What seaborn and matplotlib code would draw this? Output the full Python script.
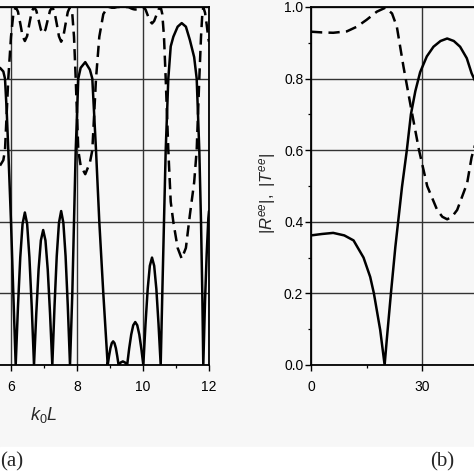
import matplotlib
matplotlib.use('Agg')
import matplotlib.pyplot as plt
import seaborn as sns
import pandas as pd
from matplotlib.ticker import MultipleLocator
from matplotlib.patches import Rectangle

# panel (a): reflection (solid) and transmission (dashed) vs k0L
k_left = [5.667, 5.767, 5.818, 5.870, 5.918, 6.000, 6.070, 6.142,
          6.211, 6.281, 6.350, 6.420, 6.489, 6.558, 6.628, 6.697,
          6.766, 6.836, 6.905, 6.975, 7.044, 7.113, 7.183, 7.252,
          7.319, 7.386, 7.453, 7.520, 7.587, 7.654, 7.721, 7.788,
          7.858, 7.909, 7.961, 8.039, 8.11, 8.25, 8.39, 8.464, 8.576, 8.676, 8.797, 8.930,
          8.971, 9.013, 9.054, 9.095, 9.136, 9.178, 9.219, 9.26,
          9.325, 9.39, 9.455, 9.52,
          9.581, 9.643, 9.704, 9.765, 9.826, 9.888, 9.949, 10.01,
          10.076, 10.142, 10.207, 10.273, 10.339, 10.405, 10.470, 10.536,
          10.585, 10.636, 10.688, 10.767, 10.84, 10.92, 11.05, 11.173, 11.30, 11.42,
          11.55, 11.627, 11.706, 11.758, 11.797, 11.827,
          11.88, 11.93, 11.98, 12.0]
R_left = [0.83, 0.82, 0.80, 0.71, 0.60, 0.40, 0.20, 0.0,
          0.163, 0.301, 0.394, 0.426, 0.394, 0.301, 0.163, 0.0,
          0.144, 0.267, 0.348, 0.377, 0.348, 0.267, 0.144, 0.0,
          0.165, 0.304, 0.397, 0.43, 0.397, 0.304, 0.165, 0.0,
          0.2, 0.4, 0.6, 0.8, 0.83, 0.846, 0.825, 0.8, 0.6, 0.4, 0.2, 0.0,
          0.025, 0.047, 0.061, 0.066, 0.061, 0.047, 0.025, 0.0,
          0.007, 0.01, 0.007, 0.0,
          0.046, 0.085, 0.111, 0.12, 0.111, 0.085, 0.046, 0.0,
          0.115, 0.212, 0.277, 0.30, 0.277, 0.212, 0.115, 0.0,
          0.2, 0.4, 0.6, 0.8, 0.89, 0.917, 0.945, 0.955, 0.945, 0.908,
          0.86, 0.8, 0.6, 0.4, 0.2, 0.0,
          0.18, 0.31, 0.41, 0.43]
T_left = [0.557, 0.572, 0.60, 0.704, 0.80, 0.917, 0.98, 1.0,
          0.987, 0.954, 0.919, 0.905, 0.919, 0.954, 0.987, 1.0,
          0.990, 0.964, 0.937, 0.926, 0.937, 0.964, 0.990, 1.0,
          0.986, 0.953, 0.918, 0.903, 0.918, 0.953, 0.986, 1.0,
          0.98, 0.917, 0.80, 0.60, 0.557, 0.533, 0.565, 0.60, 0.80, 0.917, 0.98, 1.0,
          1.0, 0.999, 0.998, 0.998, 0.998, 0.999, 1.0, 1.0,
          1.0, 1.0, 1.0, 1.0,
          0.999, 0.996, 0.994, 0.993, 0.994, 0.996, 0.999, 1.0,
          0.993, 0.977, 0.961, 0.954, 0.961, 0.977, 0.993, 1.0,
          0.98, 0.917, 0.80, 0.60, 0.456, 0.399, 0.327, 0.297, 0.327, 0.419,
          0.51, 0.60, 0.80, 0.917, 0.98, 1.0,
          0.984, 0.951, 0.912, 0.903]

# panel (b)
x_right_R = [0, 3, 6, 9, 11.5, 14.2, 16, 17, 18.7, 19.9, 20.5, 21.6, 22.8,
             24.6, 25.9, 27.0, 28.2, 29.5, 31.3, 33.1, 35.0, 36.8, 38.6, 40.3, 42.1, 43.4, 44.5]
R_right = [0.362, 0.366, 0.369, 0.362, 0.348, 0.30, 0.246, 0.2, 0.098, 0.0, 0.073, 0.2, 0.33,
           0.498, 0.6, 0.7, 0.765, 0.818, 0.862, 0.889, 0.905, 0.912, 0.905, 0.889, 0.857, 0.815, 0.79]
x_right_T = [0, 3, 6, 9.7, 12.4, 15, 17.8, 20.1, 21.9, 23.2, 25, 27, 29.2, 31.4,
             34.1, 35.5, 36.8, 38.1, 39.5, 42.2, 43.4, 44.5]
T_right = [0.931, 0.929, 0.928, 0.932, 0.945, 0.964, 0.987, 0.998, 0.982, 0.945, 0.833, 0.72, 0.6, 0.5,
           0.433, 0.414, 0.407, 0.414, 0.433, 0.508, 0.58, 0.62]

df_a = pd.DataFrame({'k0L': k_left, 'R': R_left, 'T': T_left})
df_bR = pd.DataFrame({'x': x_right_R, 'R': R_right})
df_bT = pd.DataFrame({'x': x_right_T, 'T': T_right})

sns.set_theme(style='ticks')
plt.rcParams['font.family'] = ['Liberation Sans Narrow', 'Liberation Sans', 'DejaVu Sans']
plt.rcParams['mathtext.fontset'] = 'custom'
plt.rcParams['mathtext.rm'] = 'Liberation Sans'
plt.rcParams['mathtext.it'] = 'Liberation Sans:italic'

bg = '#f7f7f7'
W = 474.0
fig = plt.figure(figsize=(4.74, 4.74), dpi=100, facecolor=bg)
fig.add_artist(Rectangle((0, 0), 1, 27 / W, transform=fig.transFigure, color='white', zorder=0))

ax1 = fig.add_axes([-5.5 / W, 109 / W, 214.5 / W, 358 / W])
ax2 = fig.add_axes([311 / W, 109 / W, 222 / W, 358 / W])

dash = (0, (4.5, 2.5))
lw = 1.8
sns.lineplot(data=df_a, x='k0L', y='R', ax=ax1, color='black', lw=lw, estimator=None)
sns.lineplot(data=df_a, x='k0L', y='T', ax=ax1, color='black', lw=lw, estimator=None, linestyle=dash)
sns.lineplot(data=df_bR, x='x', y='R', ax=ax2, color='black', lw=lw, estimator=None)
sns.lineplot(data=df_bT, x='x', y='T', ax=ax2, color='black', lw=lw, estimator=None, linestyle=dash)

ax1.set_xlim(5.5, 12)
ax2.set_xlim(0, 60)
for ax in (ax1, ax2):
    ax.set_facecolor(bg)
    ax.set_ylim(0, 1)
    ax.yaxis.set_major_locator(MultipleLocator(0.2))
    ax.yaxis.set_minor_locator(MultipleLocator(0.1))
    ax.grid(True, which='major', color='#333333', lw=1.0)
    ax.set_xlabel('')
    ax.set_ylabel('')
    for s in ax.spines.values():
        s.set_color('black')
        s.set_linewidth(1.3)
        s.set_visible(True)
    ax.tick_params(which='major', direction='out', length=4.5, width=1.0, colors='black', labelsize=10)
    ax.tick_params(which='minor', direction='out', length=2.5, width=0.9, colors='black')
    ax.tick_params(axis='x', pad=6)
    ax.tick_params(axis='y', pad=1)
    ax.set_axisbelow(True)

ax1.xaxis.set_minor_locator(MultipleLocator(1))
ax1.set_xticks([6, 8, 10, 12])
ax1.set_yticklabels([])
ax2.xaxis.set_minor_locator(MultipleLocator(15))
ax2.set_xticks([0, 30, 60], ['0', '30', ''])
ax2.set_yticks([0, 0.2, 0.4, 0.6, 0.8, 1.0])
ax2.set_yticklabels(['0.0', '0.2', '0.4', '0.6', '0.8', '1.0'])

fig.text(44 / W, 59 / W, r'$k_{\mathrm{0}}L$', fontsize=13, ha='center', va='center')
fig.text(267 / W, 281 / W, r'$|R^{ee}|,\ |T^{ee}|$', fontsize=12, rotation=90, ha='center', va='center')
fig.text(0 / W, 12 / W, '(a)', fontsize=15, family='Liberation Serif', ha='left', va='center')
fig.text(442 / W, 12 / W, '(b)', fontsize=15, family='Liberation Serif', ha='center', va='center')

plt.savefig('out.png', dpi=100, facecolor=bg)
plt.close()
